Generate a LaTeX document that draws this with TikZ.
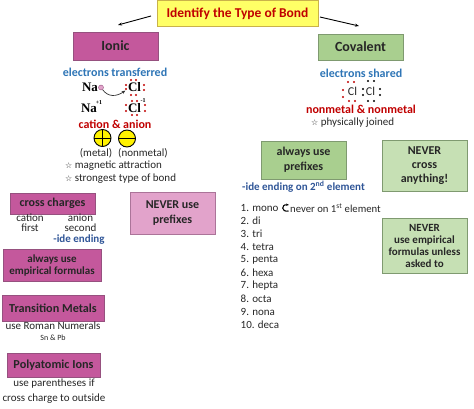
\documentclass[tikz,border=0pt]{standalone}
\usepackage{fontspec}
\setmainfont{Carlito}
\newfontfamily\starfont{DejaVu Sans}
\newfontfamily\elemfont{Liberation Serif}
\usetikzlibrary{arrows.meta,positioning}
\definecolor{boxpink}{HTML}{C4589C}
\definecolor{boxpinklight}{HTML}{E2A3CB}
\definecolor{edgepink}{HTML}{96517F}
\definecolor{boxgreen}{HTML}{A9CF8F}
\definecolor{boxgreenlight}{HTML}{C6E0B4}
\definecolor{edgegreen}{HTML}{7F9A70}
\definecolor{boxyellow}{HTML}{FFFF66}
\definecolor{edgeyellow}{HTML}{C9B24A}
\definecolor{headblue}{HTML}{2E75B6}
\definecolor{endblue}{HTML}{2F5597}
\definecolor{headred}{HTML}{C00000}
\definecolor{bodygray}{HTML}{262626}
\newcommand{\fsize}[1]{\fontsize{#1}{#1}\selectfont}
\newcommand{\starmark}{{\starfont\fsize{8}☆}}
\tikzset{
  box/.style={draw,line width=.8pt,inner sep=0pt,align=center,font=\fsize{12}\bfseries,text=black!85},
  pinkbox/.style={box,fill=boxpink,draw=edgepink},
  lightpinkbox/.style={box,fill=boxpinklight,draw=edgepink!80},
  greenbox/.style={box,fill=boxgreen,draw=edgegreen},
  lightgreenbox/.style={box,fill=boxgreenlight,draw=edgegreen},
  txt/.style={inner sep=0pt,font=\fsize{11},text=bodygray},
  head/.style={inner sep=0pt,font=\fsize{12}\bfseries},
  elem/.style={inner sep=0pt,font=\elemfont\fsize{13}\bfseries,text=black},
  cl/.style={inner sep=0pt,font=\fsize{12},text=bodygray},
  ion/.style={draw=black,fill=yellow,circle,line width=.9pt,minimum size=17pt,inner sep=0pt},
  link/.style={-{Stealth[length=4pt]},line width=.9pt,black}
}
\begin{document}
\begin{tikzpicture}[x=1pt,y=-1pt]
  \useasboundingbox (0,0) rectangle (474,408);

  \node[box,fill=boxyellow,draw=edgeyellow,minimum width=161pt,minimum height=26pt,
        font=\fsize{13.5}\bfseries,text=headred] (title) at (237.5,13.5) {Identify the Type of Bond};

  % ionic side
  \node[pinkbox,minimum width=85pt,minimum height=28pt,font=\fsize{14}\bfseries] (ionic) at (115.5,46) {Ionic};
  \node[head,text=headblue] (transferred) at (115,72) {electrons transferred};
  \node[elem] (na1) at (90,87) {Na};
  \node[elem] (cl1) at (134.5,87.5) {Cl};
  \node[elem] (na2) at (89,108.5) {Na};
  \node[elem] (cl2) at (134.5,108.5) {Cl};
  \node[inner sep=0pt,font=\elemfont\fsize{6}\bfseries] (plusone) at (99,102.5) {+1};
  \node[inner sep=0pt,font=\elemfont\fsize{6}\bfseries] (minusone) at (143,100.5) {-1};
  \foreach \x/\y in {131/80,136/80,126/85,126/89,144/85,144/90,131/95,136/95,
                     132/101,137/101,126/105,126/111,145/105,145/111,132/115,137/115}
    \fill[headred] (\x,\y) circle (1.1pt);
  \node[circle,draw=edgepink,fill=boxpinklight,inner sep=0pt,minimum size=5pt] (electron) at (101,87.5) {};
  \coordinate (clin) at (125.5,90.5);
  \draw[-{Stealth[length=4pt]},black!80,line width=.7pt] (electron) .. controls (108,97) and (116,97) .. (clin);
  \node[head,text=headred] (cation) at (115,124) {cation \& anion};
  \node[ion] (plus) at (102.5,138) {};
  \node[ion] (minus) at (127,138.5) {};
  \draw[line width=.9pt] (plus.north) -- (plus.south) (plus.west) -- (plus.east);
  \draw[line width=.9pt] (minus.west) -- (minus.east);
  \node[txt] (metal) at (96,153) {(metal)};
  \node[txt] (nonmetal) at (143,153) {(nonmetal)};
  \node[txt,anchor=west] (magnetic) at (65,166) {\starmark\ magnetic attraction};
  \node[txt,anchor=west] (strongest) at (65,179) {\starmark\ strongest type of bond};

  \node[pinkbox,minimum width=85pt,minimum height=21pt] (cross) at (52.5,203.5) {cross charges};
  \node[lightpinkbox,minimum width=85pt,minimum height=42pt] (noprefix) at (172.5,213) {NEVER use\\[3pt]prefixes};
  \node[txt,align=center] (catfirst) at (30,222.5) {cation\\[-.5pt]first};
  \node[txt,align=center] (ansecond) at (80.5,222.5) {anion\\[-.5pt]second};
  \node[head,font=\fsize{11}\bfseries,text=endblue] (ideending) at (79,239.5) {-ide ending};
  \node[pinkbox,minimum width=98pt,minimum height=32pt,font=\fsize{11}\bfseries] (empirical) at (52,265) {always use\\[1pt]empirical formulas};
  \node[pinkbox,minimum width=102pt,minimum height=26pt,font=\fsize{12.2}\bfseries] (transition) at (53,308) {Transition Metals};
  \node[txt] (roman) at (53,326) {use Roman Numerals};
  \node[txt,font=\fsize{8}] (snpb) at (53,338) {Sn \& Pb};
  \node[pinkbox,minimum width=93pt,minimum height=24pt,font=\fsize{12.2}\bfseries] (poly) at (53.5,365) {Polyatomic Ions};
  \node[txt] (parens) at (54,384) {use parentheses if};
  \node[txt] (outside) at (54,399) {cross charge to outside};

  % covalent side
  \node[greenbox,minimum width=85pt,minimum height=26pt,font=\fsize{14}\bfseries] (covalent) at (360.5,47) {Covalent};
  \node[head,text=headblue] (shared) at (361,73) {electrons shared};
  \node[cl] (cla) at (352.5,91.5) {Cl};
  \node[cl] (clb) at (370.5,91.5) {Cl};
  \foreach \x/\y in {348/82,354/82,343/90,343/97,349/101,355/101}
    \fill[headred] (\x,\y) circle (1.1pt);
  \foreach \x/\y in {368/81,374/81,363/89,363/95,380/89,380/95,368/101,374/101}
    \fill[black] (\x,\y) circle (1.1pt);
  \node[head,text=headred] (nonmet) at (361,109) {nonmetal \& nonmetal};
  \node[txt,anchor=west] (joined) at (311,123) {\starmark\ physically joined};

  \node[greenbox,minimum width=85pt,minimum height=38pt] (useprefix) at (303.5,160) {always use\\[3pt]prefixes};
  \node[lightgreenbox,minimum width=85pt,minimum height=51pt] (nocross) at (424.5,165.5) {NEVER\\[2pt]cross\\[2pt]anything!};
  \node[head,anchor=west,font=\fsize{11}\bfseries,text=endblue] (secondel) at (242,187) {-ide ending on 2\textsuperscript{nd} element};
  \foreach \n/\name [evaluate=\n as \ypos using 208+13*(\n-1)] in
      {1/mono,2/di,3/tri,4/tetra,5/penta,6/hexa,7/hepta,8/octa,9/nona,10/deca}
    \node[txt,anchor=west] (pre\n) at (240.5,\ypos) {\n. \name};
  \node[txt,anchor=west,font=\fsize{10.7}] (neverfirst) at (290,208) {never on 1\textsuperscript{st} element};
  \draw[-{Stealth[length=3pt]},line width=1.1pt,black] (288.5,211) .. controls (281,212.5) and (281,204) .. (289,205);
  \node[lightgreenbox,minimum width=85pt,minimum height=55pt,font=\fsize{11}\bfseries] (noempirical) at (424.5,245.5)
    {NEVER\\[1pt]use empirical\\[1pt]formulas unless\\[1pt]asked to};

  \coordinate (leftstart) at (151,16);
  \coordinate (leftend) at (118,25);
  \coordinate (rightstart) at (320,17);
  \coordinate (rightend) at (359,26);
  \draw[link] (leftstart) -- (leftend);
  \draw[link] (rightstart) -- (rightend);
\end{tikzpicture}
\end{document}
